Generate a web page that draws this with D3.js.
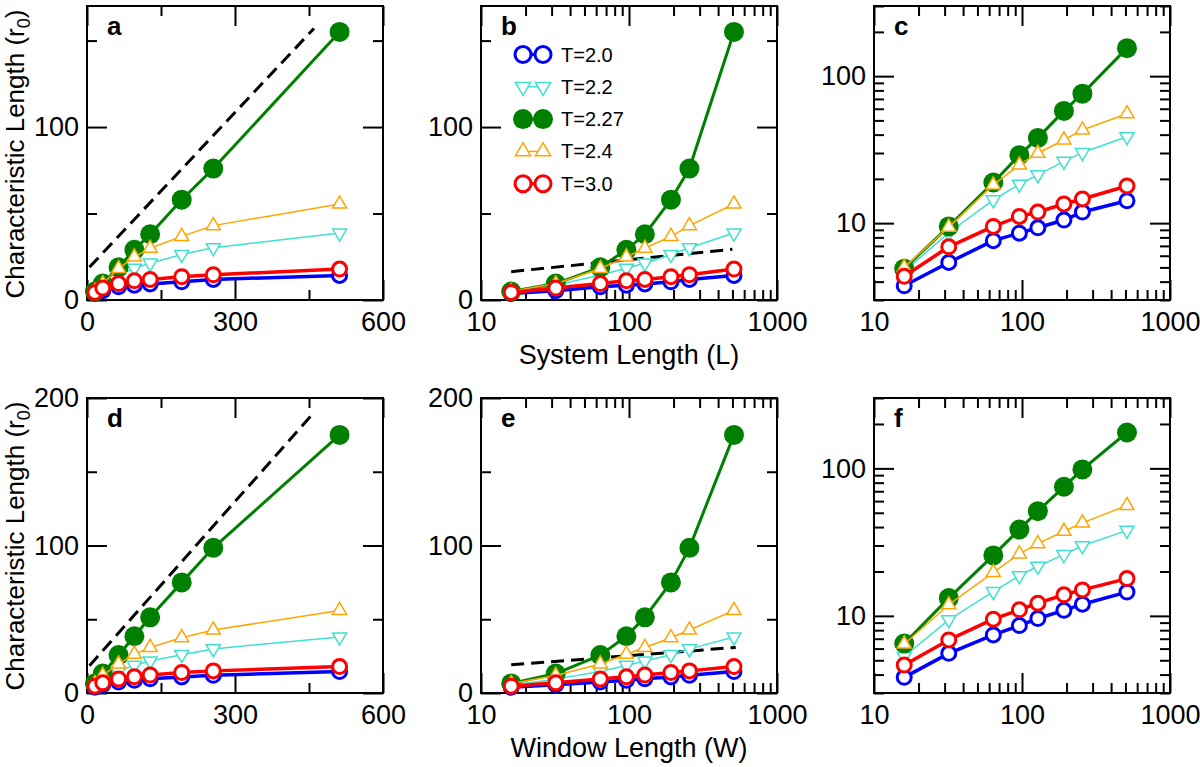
<!DOCTYPE html>
<html>
<head>
<meta charset="utf-8">
<script src="https://cdn.jsdelivr.net/npm/d3@7"></script>
<style>
body { margin: 0; background: #fff; }
text { font-family: "Liberation Sans", Arial, Helvetica, sans-serif; }
</style>
</head>
<body>
<div id="chart"></div>
<script>
// x values (system length L, window length W)
var lengths = [16, 32, 64, 96, 128, 192, 256, 512];
var temps = ["T=2.0", "T=2.2", "T=2.27", "T=2.4", "T=3.0"];

// top row: characteristic length vs system length
var sysT20 = [3.75, 5.4, 7.6, 8.55, 9.3, 10.5, 11.9, 14.2];
var sysT22 = [4.7, 8.6, 14.4, 18.4, 21.3, 26.3, 30.2, 38.7];
var sysT227 = [4.9, 9.5, 18.9, 29, 38, 58, 76, 155];
var sysT24 = [5.0, 9.4, 18.2, 24.9, 29.9, 36.8, 43, 55.5];
var sysT30 = [4.35, 6.9, 9.5, 11.1, 11.9, 13.5, 14.6, 17.9];

// bottom row: characteristic length vs window length
var winT20 = [3.83, 5.57, 7.43, 8.6, 9.6, 10.9, 12, 14.5];
var winT22 = [5.3, 9.4, 14.6, 18.7, 21.7, 26, 29.9, 38];
var winT227 = [6.5, 13.2, 25.7, 38.5, 51.3, 75, 98.4, 175];
var winT24 = [6.45, 11.9, 19.7, 26.3, 30.9, 37.5, 42.7, 56];
var winT30 = [4.64, 6.87, 9.5, 11, 12.2, 13.9, 15, 17.9];

// dashed guide lines, [x, y] end points
var dashA = [[5, 19], [460, 157]];
var dashB = [[16, 16.4], [500, 29.3]];
var dashD = [[5, 18.5], [457, 189]];
var dashE = [[16, 19.1], [526, 30.9]];

// ticks
var linXMajor = [0, 300, 600], linXMinor = [150, 450];
var logXMajor = [10, 100, 1000], logXMinor = [20, 30, 40, 50, 60, 70, 80, 90, 200, 300, 400, 500, 600, 700, 800, 900];
var linYMajorTop = [0, 100], linYMajorBot = [0, 100, 200], linYMinor = [50, 150];
var logYMajor = [10, 100], logYMinor = [3, 4, 5, 6, 7, 8, 9, 20, 30, 40, 50, 60, 70, 80, 90, 200, 300];

var styles = [
	{ color: "#0000ff", shape: "circle", r: 7, sw: 3, lw: 3.5 },
	{ color: "#40e0d0", shape: "down", sw: 1.5, lw: 1.5 },
	{ color: "#008000", shape: "dot", r: 10, sw: 0, lw: 3 },
	{ color: "#ffa500", shape: "up", sw: 1.5, lw: 1.5 },
	{ color: "#ff0000", shape: "circle", r: 7, sw: 3, lw: 3.5 }
];

var svg = d3.select("#chart").append("svg")
	.attr("width", 1200)
	.attr("height", 767);

var W = 296;
var cols = [87, 481, 874];
var rows = [{ top: 6, h: 294 }, { top: 398, h: 295 }];
var fmt = d3.format("d");

function marker(sel, st, x, y, big) {
	if (st.shape === "circle" || st.shape === "dot") {
		sel.append("circle")
			.attr("cx", x).attr("cy", y)
			.attr("r", st.r + (big && st.shape === "circle" ? 1 : 0))
			.attr("fill", st.shape === "dot" ? st.color : "#fff")
			.attr("stroke", st.color)
			.attr("stroke-width", st.sw);
	} else {
		sel.append("path")
			.attr("d", d3.symbol().type(d3.symbolTriangle).size(big ? 100 : 85)())
			.attr("transform", "translate(" + x + "," + y + ")" + (st.shape === "down" ? " rotate(180)" : ""))
			.attr("fill", "#fff")
			.attr("stroke", st.color)
			.attr("stroke-width", st.sw);
	}
}

function addAxis(g, axis, tr) {
	var a = g.append("g")
		.attr("transform", tr || null)
		.call(axis)
		.attr("font-size", 27);
	a.select(".domain").remove();
	a.selectAll("line").attr("stroke", "#000").attr("stroke-width", 2);
	a.selectAll("text").attr("fill", "#000");
}

function panel(col, row, opt) {
	var left = cols[col], top = rows[row].top, h = rows[row].h;
	var g = svg.append("g").attr("transform", "translate(" + left + "," + top + ")");

	var x = opt.xLog ? d3.scaleLog().domain([10, 1000]).range([0, W])
		: d3.scaleLinear().domain([0, 600]).range([0, W]);
	var y = opt.yLog ? d3.scaleLog().domain([3, 300]).range([h, 0])
		: d3.scaleLinear().domain([0, opt.yMax]).range([h, 0]);

	var xMajor = opt.xLog ? logXMajor : linXMajor;
	var xMinor = opt.xLog ? logXMinor : linXMinor;
	var yMajor = opt.yLog ? logYMajor : opt.yMajor;
	var yMinor = opt.yLog ? logYMinor : linYMinor;

	// axes, ticks point inward on all four sides
	addAxis(g, d3.axisBottom(x).tickValues(xMajor).tickFormat(fmt).tickSize(-20).tickPadding(12), "translate(0," + h + ")");
	addAxis(g, d3.axisBottom(x).tickValues(xMinor).tickFormat("").tickSize(-10), "translate(0," + h + ")");
	addAxis(g, d3.axisTop(x).tickValues(xMajor).tickFormat("").tickSize(-20));
	addAxis(g, d3.axisTop(x).tickValues(xMinor).tickFormat("").tickSize(-10));
	addAxis(g, d3.axisLeft(y).tickValues(yMajor).tickFormat(fmt).tickSize(-20).tickPadding(8));
	addAxis(g, d3.axisLeft(y).tickValues(yMinor).tickFormat("").tickSize(-10));
	addAxis(g, d3.axisRight(y).tickValues(yMajor).tickFormat("").tickSize(-20), "translate(" + W + ",0)");
	addAxis(g, d3.axisRight(y).tickValues(yMinor).tickFormat("").tickSize(-10), "translate(" + W + ",0)");

	g.append("rect")
		.attr("width", W).attr("height", h)
		.attr("fill", "none")
		.attr("stroke", "#000")
		.attr("stroke-width", 2);

	var line = d3.line().x(d => x(d[0])).y(d => y(d[1]));

	if (opt.dash) {
		g.append("path")
			.attr("d", line(opt.dash))
			.attr("fill", "none")
			.attr("stroke", "#000")
			.attr("stroke-width", 3)
			.attr("stroke-dasharray", "13,7");
	}

	opt.series.forEach((vals, i) => {
		var st = styles[i];
		var pts = lengths.map((l, j) => [l, vals[j]]);
		g.append("path")
			.attr("d", line(pts))
			.attr("fill", "none")
			.attr("stroke", st.color)
			.attr("stroke-width", st.lw)
			.attr("stroke-linejoin", "round");
		pts.forEach(p => marker(g, st, x(p[0]), y(p[1])));
	});

	g.append("text")
		.attr("x", 20)
		.attr("y", 29)
		.attr("font-size", 26)
		.attr("font-weight", "bold")
		.text(opt.letter);

	if (opt.legend) {
		temps.forEach((t, i) => {
			var st = styles[i];
			var cy = 48.5 + i * 32.3;
			g.append("line")
				.attr("x1", 42).attr("x2", 62)
				.attr("y1", cy).attr("y2", cy)
				.attr("stroke", st.color)
				.attr("stroke-width", st.lw);
			marker(g, st, 42, cy, true);
			marker(g, st, 62, cy, true);
			g.append("text")
				.attr("x", 80)
				.attr("y", cy + 7)
				.attr("font-size", 20)
				.text(t);
		});
	}
}

var sysSeries = [sysT20, sysT22, sysT227, sysT24, sysT30];
var winSeries = [winT20, winT22, winT227, winT24, winT30];

panel(0, 0, { letter: "a", yMax: 170, yMajor: linYMajorTop, series: sysSeries, dash: dashA });
panel(1, 0, { letter: "b", xLog: true, yMax: 170, yMajor: linYMajorTop, series: sysSeries, dash: dashB, legend: true });
panel(2, 0, { letter: "c", xLog: true, yLog: true, series: sysSeries });
panel(0, 1, { letter: "d", yMax: 200, yMajor: linYMajorBot, series: winSeries, dash: dashD });
panel(1, 1, { letter: "e", xLog: true, yMax: 200, yMajor: linYMajorBot, series: winSeries, dash: dashE });
panel(2, 1, { letter: "f", xLog: true, yLog: true, series: winSeries });

// axis titles
[{ cy: 154 }, { cy: 546 }].forEach(d => {
	var t = svg.append("text")
		.attr("transform", "translate(24," + d.cy + ") rotate(-90)")
		.attr("text-anchor", "middle")
		.attr("font-size", 26);
	t.append("tspan").text("Characteristic Length (r");
	t.append("tspan").attr("font-size", 18).attr("dy", 6).text("0");
	t.append("tspan").attr("dy", -6).text(")");
});

svg.append("text")
	.attr("x", 629).attr("y", 364)
	.attr("text-anchor", "middle")
	.attr("font-size", 27)
	.text("System Length (L)");

svg.append("text")
	.attr("x", 629).attr("y", 757)
	.attr("text-anchor", "middle")
	.attr("font-size", 27)
	.text("Window Length (W)");
</script>
</body>
</html>
